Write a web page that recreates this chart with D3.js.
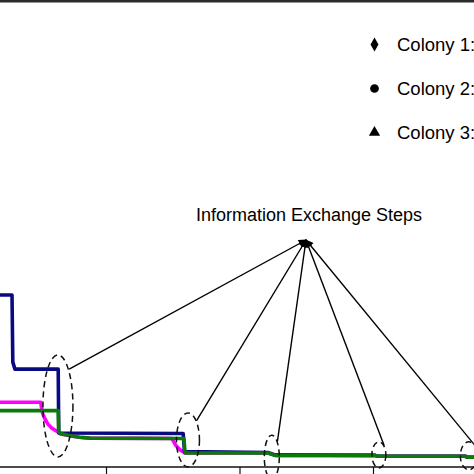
<!DOCTYPE html>
<html>
<head>
<meta charset="utf-8">
<script src="https://cdn.jsdelivr.net/npm/d3@7"></script>
<style>
  body { margin: 0; background: #fff; }
  svg { display: block; }
</style>
</head>
<body>
<script>
// convergence curves of the three colonies (iteration vs best cost)
const blue_iter = [20, 29.6, 30.2, 31.8, 64.2, 64.6, 157.8, 158.8, 221.3, 226.6, 301.5, 303.7, 368.9, 371.2, 380];
const blue_cost = [36.9, 36.9, 22.5, 21.0, 21.0, 7.3, 7.2, 3.3, 3.1, 2.6, 2.5, 2.3, 2.3, 2.1, 2.1];

const magenta_iter = [20, 51.0, 52.5, 54.3, 56.5, 59.5, 63.0, 66.0, 73.0, 80.0, 88.0, 149.4, 152.4, 155.4, 159.2, 221.3, 226.6, 301.5, 303.7, 368.9, 371.2, 380];
const magenta_cost = [13.9, 13.9, 11.5, 10.3, 9.2, 8.3, 7.7, 7.1, 6.7, 6.4, 6.2, 6.1, 4.6, 3.7, 3.0, 3.0, 2.5, 2.5, 2.3, 2.3, 2.1, 2.1];

const green_iter = [20, 64.2, 64.6, 66.0, 73.0, 80.0, 88.0, 158.4, 159.2, 221.3, 226.6, 301.5, 303.7, 368.9, 371.2, 380];
const green_cost = [12.1, 12.1, 7.5, 7.2, 6.7, 6.4, 6.2, 6.1, 3.0, 3.0, 2.5, 2.5, 2.3, 2.3, 2.1, 2.1];

// information exchange steps (ellipse centres, data units)
const exchange_iter = [64.0, 161.4, 224.2, 304.4, 371.8];
const exchange_cost = [13.1, 5.8, 2.1, 2.6, 2.4];

const x_ticks = [100, 200, 300];
const legend_labels = ["Colony 1:", "Colony 2:", "Colony 3:"];
const legend_symbols = [d3.symbolDiamond, d3.symbolCircle, d3.symbolTriangle];
const note_text = "Information Exchange Steps";

const width = 474;
const height = 474;
const plot_top = 1;
const plot_bottom = 467;

let svg = d3.select("body").append("svg")
    .attr("width", width)
    .attr("height", height);

let x = d3.scaleLinear()
    .domain([100, 300])
    .range([106, 373]);

let y = d3.scaleLinear()
    .domain([0, 100])
    .range([plot_bottom, plot_bottom - 466]);

svg.append("defs").append("clipPath")
    .attr("id", "plot_clip")
  .append("rect")
    .attr("x", 0)
    .attr("y", plot_top)
    .attr("width", width)
    .attr("height", plot_bottom - plot_top);

// top frame line
svg.append("line")
    .attr("x1", 0).attr("x2", width)
    .attr("y1", 1.2).attr("y2", 1.2)
    .attr("stroke", "#2b2b2b")
    .attr("stroke-width", 2.5);

// bottom axis
let x_axis = d3.axisBottom(x)
    .tickValues(x_ticks)
    .tickSize(10)
    .tickSizeOuter(0)
    .tickFormat(() => "");

let ax = svg.append("g")
    .attr("transform", "translate(0," + plot_bottom + ")")
    .call(x_axis);
ax.select(".domain").remove();
ax.selectAll(".tick line").attr("stroke", "#111").attr("stroke-width", 1.2);
ax.append("line")
    .attr("x1", 0).attr("x2", width)
    .attr("y1", 0).attr("y2", 0)
    .attr("stroke", "#111")
    .attr("stroke-width", 1.3);

let line = d3.line()
    .x(d => x(d[0]))
    .y(d => y(d[1]));

let series = [
  {iter: magenta_iter, cost: magenta_cost, color: "#ff00ff"},
  {iter: blue_iter, cost: blue_cost, color: "#0a0a80"},
  {iter: green_iter, cost: green_cost, color: "#0a7a0a"}
];

let curves = svg.append("g").attr("clip-path", "url(#plot_clip)");
series.forEach(function(s){
  curves.append("path")
      .datum(d3.zip(s.iter, s.cost))
      .attr("fill", "none")
      .attr("stroke", s.color)
      .attr("stroke-width", 3.6)
      .attr("stroke-linejoin", "round")
      .attr("d", line);
});

// dashed ellipses round the exchange steps
const ell_rx = [15, 11.5, 7.5, 7, 8.5];
const ell_ry = [51, 27, 22, 13, 14];
let notes = svg.append("g");
exchange_iter.forEach(function(it, i){
  notes.append("ellipse")
      .attr("cx", x(it))
      .attr("cy", y(exchange_cost[i]))
      .attr("rx", ell_rx[i])
      .attr("ry", ell_ry[i])
      .attr("fill", "none")
      .attr("stroke", "#111")
      .attr("stroke-width", 1.5)
      .attr("stroke-dasharray", "6,4");
});

// leader lines to the common arrow point
const hub = [306, 240];
svg.select("defs").append("marker")
    .attr("id", "arrow")
    .attr("viewBox", "0 0 10 10")
    .attr("refX", 9).attr("refY", 5)
    .attr("markerWidth", 12).attr("markerHeight", 8)
    .attr("markerUnits", "userSpaceOnUse")
    .attr("orient", "auto")
  .append("path")
    .attr("d", "M0,0L10,5L0,10Z")
    .attr("fill", "#000");

exchange_iter.forEach(function(it, i){
  let sx = x(it) + ell_rx[i] * 0.75;
  let sy = y(exchange_cost[i]) - ell_ry[i] * 0.72;
  notes.append("line")
      .attr("x1", sx).attr("y1", sy)
      .attr("x2", hub[0]).attr("y2", hub[1])
      .attr("stroke", "#000")
      .attr("stroke-width", 1.4)
      .attr("marker-end", "url(#arrow)");
});

notes.append("text")
    .attr("x", 309)
    .attr("y", 220.5)
    .attr("text-anchor", "middle")
    .attr("font-family", "Liberation Sans, Arial, sans-serif")
    .attr("font-size", 18)
    .attr("fill", "#000")
    .text(note_text);

// legend
let legend = svg.append("g");
legend_labels.forEach(function(lbl, i){
  let ly = 51 + i * 44;
  let sym = d3.symbol().type(legend_symbols[i]).size(i === 1 ? 60 : 55);
  legend.append("path")
      .attr("d", sym())
      .attr("transform", "translate(374.5," + (ly - 6.5) + ")")
      .attr("fill", "#000");
  legend.append("text")
      .attr("x", 397)
      .attr("y", ly)
      .attr("font-family", "Liberation Sans, Arial, sans-serif")
      .attr("font-size", 18.5)
      .attr("fill", "#000")
      .text(lbl);
});
</script>
</body>
</html>
